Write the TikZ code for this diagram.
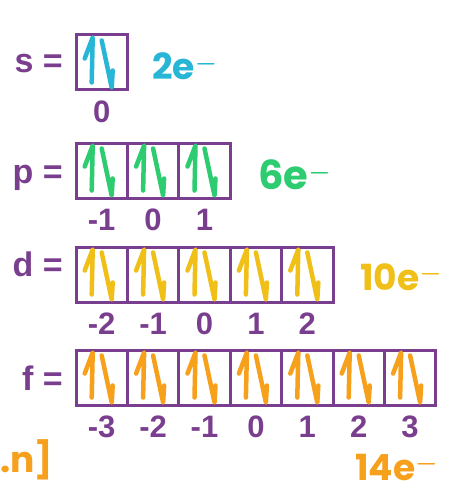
\documentclass[tikz,border=0pt]{standalone}
\usepackage{amsmath}
\usepackage{fontspec}
\setmainfont{Liberation Sans}
\newfontfamily\handfont{Poppins}
\usetikzlibrary{positioning}

\definecolor{orbpurple}{RGB}{122,62,142}
\definecolor{scyan}{RGB}{40,182,214}
\definecolor{pgreen}{RGB}{46,204,113}
\definecolor{dyellow}{RGB}{240,192,24}
\definecolor{forange}{RGB}{246,160,28}

\begin{document}
\begin{tikzpicture}[x=1pt, y=-1pt,
    orb/.style={draw=orbpurple, line width=3pt, minimum width=51.4pt, minimum height=55pt, inner sep=0pt},
    every label/.style={font=\fontsize{31}{31}\selectfont\bfseries, text=orbpurple, inner sep=0pt},
    label distance=9pt,
    rowname/.style={font=\fontsize{34}{34}\selectfont\bfseries, text=orbpurple, anchor=base east, inner sep=0pt},
    count/.style={font=\handfont\fontsize{36}{36}\selectfont\bfseries, anchor=base west, inner sep=0pt},
    spin/.style={line width=4.5pt, line cap=round, line join=round},
    pair/.pic={
      \draw[spin] (-10,20) -- (-9,-25) -- (-17,-4);
      \draw[spin] (0,-22) -- (10,25) -- (11,8);
    }]
      \useasboundingbox[fill=white] (0,0) rectangle (466,500);

      % s
      \node[rowname] (sname) at (63,73) {s =};
      \node[orb, label=below:{0}] (s0) at (101.7,62.5) {};
      \pic[scyan] at (s0.center) {pair};
      \node[count, text=scyan] (scount) at (152,80) {2e$^{\boldsymbol{-}}$};

      % p
      \node[rowname] (pname) at (63,183) {p =};
      \foreach \m [count=\k from 0] in {-1,0,1} {
        \node[orb, label=below:{\m}] (p\k) at (101.7+51.4*\k,170.5) {};
        \pic[pgreen] at (p\k.center) {pair};
      }
      \node[count, text=pgreen, font=\handfont\fontsize{40}{40}\selectfont\bfseries] (pcount) at (258,189) {6e$^{\boldsymbol{-}}$};

      % d
      \node[rowname] (dname) at (63,276) {d =};
      \foreach \m [count=\k from 0] in {-2,-1,0,1,2} {
        \node[orb, label=below:{\m}] (d\k) at (101.7+51.4*\k,274.5) {};
        \pic[dyellow] at (d\k.center) {pair};
      }
      \node[count, text=dyellow] (dcount) at (360,290) {10e$^{\boldsymbol{-}}$};

      % f
      \node[rowname] (fname) at (63,390) {f =};
      \foreach \m [count=\k from 0] in {-3,-2,-1,0,1,2,3} {
        \node[orb, label=below:{\m}] (f\k) at (101.7+51.4*\k,377.5) {};
        \pic[forange] at (f\k.center) {pair};
      }
      \node[count, text=forange] (fcount) at (355,480) {14e$^{\boldsymbol{-}}$};
      \node[count, text=forange] (ftail) at (0,472) {.n]};
    \end{tikzpicture}
\end{document}
